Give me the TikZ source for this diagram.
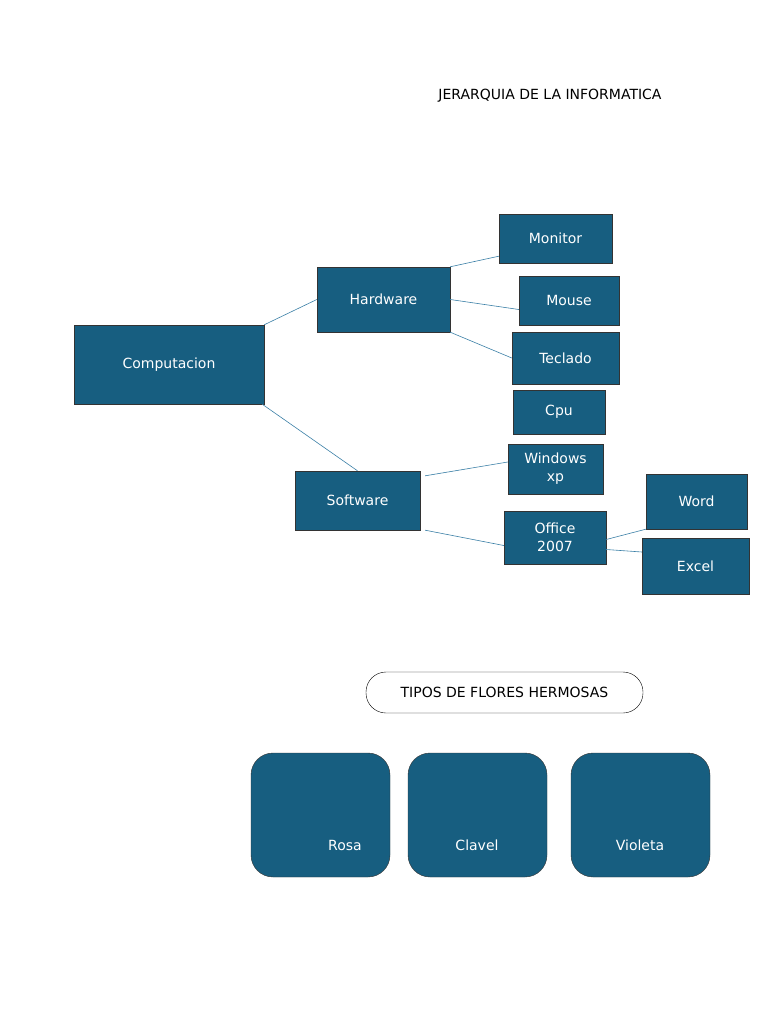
\documentclass[tikz,border=0pt]{standalone}
\usepackage{fontspec}
\setmainfont{DejaVu Sans}
\usepackage{tikz}
\usetikzlibrary{shapes,arrows}
\definecolor{boxblue}{HTML}{175E80}
\definecolor{linkblue}{HTML}{3A7FA6}
\tikzstyle{box} = [rectangle, draw=black!80, fill=boxblue, text=white, align=center, font=\fontsize{14}{18}\selectfont, inner sep=0pt]
\tikzstyle{flower} = [box, rounded corners=22pt, minimum width=139pt, minimum height=124pt]
\tikzstyle{link} = [linkblue, line width=0.6pt]
\begin{document}
\begin{tikzpicture}[x=1pt,y=-1pt]
        \useasboundingbox (0,0) rectangle (768,1024);
        \node at (550,96) {\fontsize{14}{18}\selectfont JERARQUIA DE LA INFORMATICA};
        \node (comp) [box, minimum width=190pt, minimum height=79pt] at (169,364.5) {Computacion};
        \node (hw) [box, minimum width=133pt, minimum height=65pt] at (383.5,299.5) {Hardware};
        \node (mon) [box, minimum width=113pt, minimum height=49pt] at (555.5,238.5) {Monitor};
        \node (mouse) [box, minimum width=100pt, minimum height=49pt] at (569,300.5) {Mouse};
        \node (tec) [box, minimum width=107pt, minimum height=52pt] at (565.5,358) {Teclado};
        \node (cpu) [box, minimum width=92pt, minimum height=44pt] at (559,412) {Cpu};
        \node (win) [box, minimum width=95pt, minimum height=50pt] at (555.5,469) {Windows\\xp};
        \node (sw) [box, minimum width=125pt, minimum height=59pt] at (357.5,500.5) {Software};
        \node (off) [box, minimum width=102pt, minimum height=53pt] at (555,537.5) {Office\\2007};
        \node (word) [box, minimum width=101pt, minimum height=55pt] at (696.5,501.5) {Word};
        \node (excel) [box, minimum width=107pt, minimum height=56pt] at (695.5,566) {Excel};
        \draw [link] (comp.north east) -- (hw.west);
        \draw [link] (hw.north east) -- ([yshift=7pt]mon.south west);
        \draw [link] (hw.east) -- ([yshift=-9pt]mouse.west);
        \draw [link] (hw.south east) -- (tec.west);
        \draw [link] ([xshift=-2pt]comp.south east) -- (sw.north);
        \draw [link] ([xshift=5pt,yshift=-5pt]sw.north east) -- ([yshift=7pt]win.west);
        \draw [link] ([xshift=5pt]sw.south east) -- ([yshift=-8pt]off.west);
        \draw [link] ([yshift=-2pt]off.east) -- (word.south west);
        \draw [link] ([yshift=-12pt]off.east) -- ([yshift=14pt]excel.west);
        \node (tipos) [draw=black, rounded corners=20pt, minimum width=277pt, minimum height=41pt, font=\fontsize{14}{18}\selectfont] at (504.5,692.5) {TIPOS DE FLORES HERMOSAS};
        \node (rosa) [flower] at (320.5,815) {};
        \node (clavel) [flower] at (477.5,815) {};
        \node (violeta) [flower] at (640.5,815) {};
        \node [text=white, font=\fontsize{14}{18}\selectfont] at (345,845) {Rosa};
        \node [text=white, font=\fontsize{14}{18}\selectfont] at (477,845) {Clavel};
        \node [text=white, font=\fontsize{14}{18}\selectfont] at (640,845) {Violeta};
\end{tikzpicture}
\end{document}
